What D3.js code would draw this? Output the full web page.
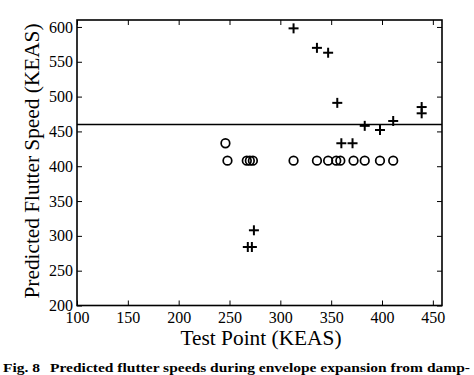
<!DOCTYPE html>
<html><head><meta charset="utf-8">
<script src="https://cdn.jsdelivr.net/npm/d3@7"></script>
<style>body{margin:0;background:#fff}svg{display:block}text{font-family:"Liberation Serif","Times New Roman",serif;fill:#000}</style>
</head><body>
<script>
const plusX = [313, 336, 347, 356, 360, 371, 383, 398, 411, 439, 439, 274, 268, 272];
const plusY = [598, 570, 563, 491, 433, 433, 458, 452, 465, 485, 476, 308, 284, 284];
const circleX = [246, 248, 267, 270, 273, 313, 336, 347, 355, 359, 372, 383, 398, 411];
const circleY = [433, 408, 408, 408, 408, 408, 408, 408, 408, 408, 408, 408, 408, 408];
const limitSpeed = 460;
const xTicks = [100, 150, 200, 250, 300, 350, 400, 450];
const yTicks = [200, 250, 300, 350, 400, 450, 500, 550, 600];
const xTitle = "Test Point (KEAS)";
const yTitle = "Predicted Flutter Speed (KEAS)";
const capLabel = "Fig. 8";
const capText = "Predicted flutter speeds during envelope expansion from damp-";

const W = 474, H = 375;
const L = 77, R = 442, T = 20, B = 305.5;
const svg = d3.select("body").append("svg").attr("width", W).attr("height", H);
const x = d3.scaleLinear().domain([100, 459]).range([L, R]);
const y = d3.scaleLinear().domain([200, 610]).range([B, T]);

const tl = 5;
const gx = svg.append("g").attr("transform", `translate(0,${B})`)
  .call(d3.axisBottom(x).tickValues(xTicks).tickSize(-tl).tickPadding(6.5).tickSizeOuter(0));
const gxt = svg.append("g").attr("transform", `translate(0,${T})`)
  .call(d3.axisTop(x).tickValues(xTicks).tickSize(-tl).tickFormat("").tickSizeOuter(0));
const gy = svg.append("g").attr("transform", `translate(${L},0)`)
  .call(d3.axisLeft(y).tickValues(yTicks).tickSize(-tl).tickPadding(4).tickSizeOuter(0));
const gyr = svg.append("g").attr("transform", `translate(${R},0)`)
  .call(d3.axisRight(y).tickValues(yTicks).tickSize(-tl).tickFormat("").tickSizeOuter(0));
[gx, gxt, gy, gyr].forEach(g => {
  g.select(".domain").remove();
  g.selectAll(".tick line").attr("stroke", "#000").attr("stroke-width", 1);
  g.selectAll("text").attr("font-size", 16).attr("font-family", "Liberation Serif").attr("fill", "#000");
});
gx.selectAll("text").attr("dy", "0.71em");

svg.append("rect").attr("x", L).attr("y", T).attr("width", R - L).attr("height", B - T)
  .attr("fill", "none").attr("stroke", "#000").attr("stroke-width", 1.6);

svg.append("line").attr("x1", x(100)).attr("x2", x(459)).attr("y1", y(limitSpeed)).attr("y2", y(limitSpeed))
  .attr("stroke", "#000").attr("stroke-width", 1.5);

svg.append("g").selectAll("circle").data(circleX.map((v, i) => [v, circleY[i]])).join("circle")
  .attr("cx", d => x(d[0])).attr("cy", d => y(d[1])).attr("r", 4.3)
  .attr("fill", "none").attr("stroke", "#000").attr("stroke-width", 1.7);

const ps = 5;
const pg = svg.append("g").selectAll("g").data(plusX.map((v, i) => [v, plusY[i]])).join("g")
  .attr("transform", d => `translate(${x(d[0])},${y(d[1])})`);
pg.append("line").attr("x1", -ps).attr("x2", ps).attr("stroke", "#000").attr("stroke-width", 2);
pg.append("line").attr("y1", -ps).attr("y2", ps).attr("stroke", "#000").attr("stroke-width", 2);

svg.append("text").attr("x", 261).attr("y", 344.5).attr("text-anchor", "middle")
  .attr("font-size", 21.5).attr("textLength", 161).attr("lengthAdjust", "spacingAndGlyphs").text(xTitle);
svg.append("text").attr("transform", "translate(39,161) rotate(-90)").attr("text-anchor", "middle")
  .attr("font-size", 21).attr("textLength", 275).attr("lengthAdjust", "spacingAndGlyphs").text(yTitle);

svg.append("text").attr("x", 3).attr("y", 372).attr("font-size", 13.5).attr("font-weight", "bold")
  .attr("textLength", 37).attr("lengthAdjust", "spacingAndGlyphs").text(capLabel);
svg.append("text").attr("x", 50).attr("y", 372).attr("font-size", 13.5).attr("font-weight", "bold")
  .attr("textLength", 420).attr("lengthAdjust", "spacingAndGlyphs").text(capText);
</script>
</body></html>
